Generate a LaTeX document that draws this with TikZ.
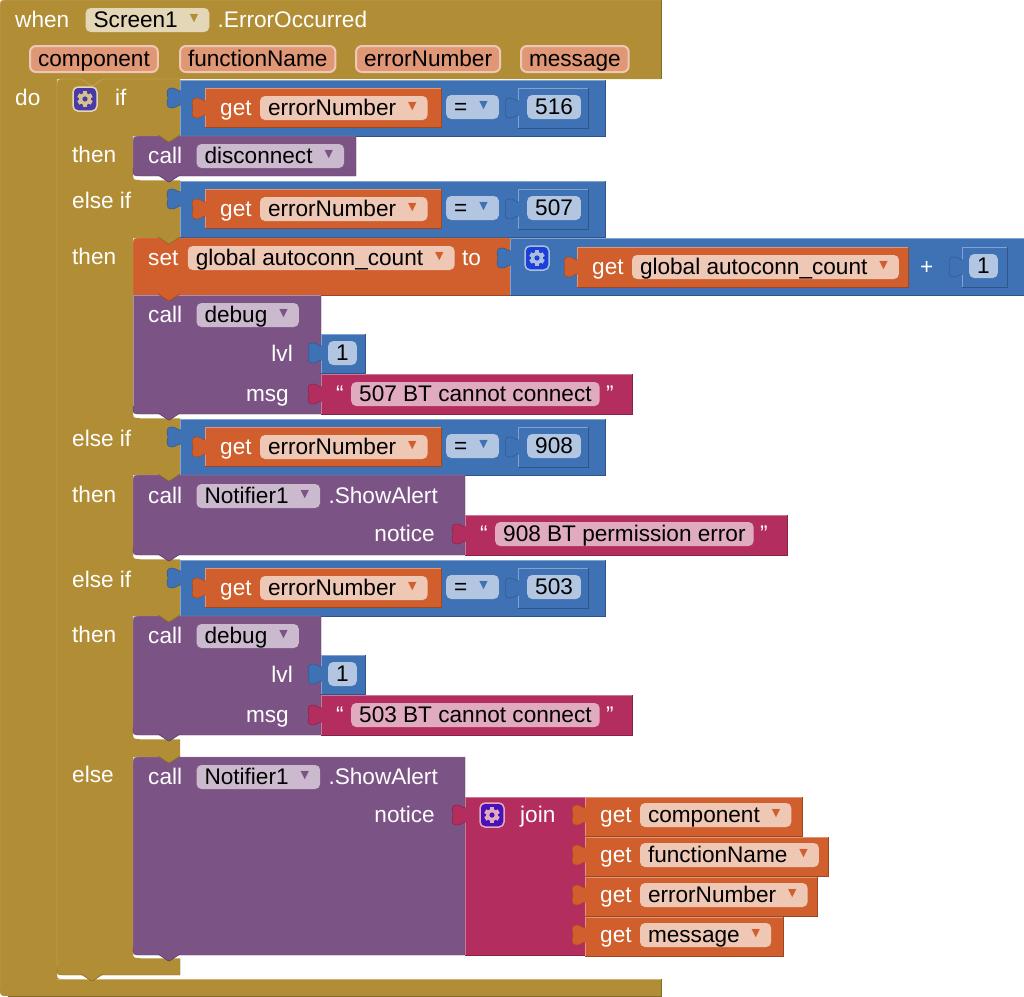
\documentclass[tikz,border=0pt]{standalone}
\usepackage{fontspec}
\setmainfont{Liberation Sans}
\newfontfamily\symfont{DejaVu Sans}
\usepackage{xcolor}
\usetikzlibrary{positioning}

\definecolor{vgold}{HTML}{B18E35}
\definecolor{vblue}{HTML}{3F71B5}
\definecolor{vorange}{HTML}{D05F2D}
\definecolor{vpurple}{HTML}{7C5385}
\definecolor{vmagenta}{HTML}{B32D5E}
\definecolor{vgearif}{HTML}{4A3AA8}
\definecolor{vgearplus}{HTML}{1C3FD9}
\definecolor{vgearjoin}{HTML}{4A10BA}

% drop-down mark inside a field
\newcommand{\drop}[1]{\hspace{12pt}\raisebox{6pt}{\symfont\fontsize{11}{11}\selectfont\color{#1}▼}\hspace{3pt}\mbox{}}
% plain block: colour, x1, y1, x2, y2
\newcommand{\blockrect}[5]{%
  \fill[#1] (#2,#3) rectangle (#4,#5);
  \draw[#1!65!white] (#2,#5) -- (#2,#3) -- (#4,#3);
  \draw[#1!75!black] (#4,#3) -- (#4,#5) -- (#2,#5);}
% block in the then column: colour, x2, y1, y2, top radius, bottom radius
\newcommand{\stackblock}[6]{%
  \fill[#1] (#2,#3) -- ({133+#5},#3) .. controls (133,#3) .. (133,{#3+#5}) -- (133,{#4-#6}) .. controls (133,#4) .. ({133+#6},#4) -- (#2,#4) -- cycle;
  \draw[#1!65!white] (133,{#4-#6}) -- (133,{#3+#5}) .. controls (133,#3) .. ({133+#5},#3) -- (#2,#3);
  \draw[#1!75!black] (#2,#3) -- (#2,#4) -- ({133+#6},#4) .. controls (133,#4) .. (133,{#4-#6});}
% puzzle tab on a left edge
\newcommand{\tabpath}[2]{({#1+1},{#2-7}) .. controls ({#1-3},{#2-7}) and ({#1-4},{#2-10}) .. ({#1-8},{#2-10}) .. controls ({#1-12},{#2-10}) and ({#1-13},{#2-8}) .. ({#1-13},{#2-5}) .. controls ({#1-13},{#2-3}) and ({#1-12},{#2-2}) .. ({#1-12},#2) .. controls ({#1-12},{#2+2}) and ({#1-13},{#2+3}) .. ({#1-13},{#2+5}) .. controls ({#1-13},{#2+8}) and ({#1-12},{#2+10}) .. ({#1-8},{#2+10}) .. controls ({#1-4},{#2+10}) and ({#1-3},{#2+7}) .. ({#1+1},{#2+7})}
\newcommand{\intab}[3]{%
  \fill[#1] \tabpath{#2}{#3} -- cycle;
  \draw[#1!80!black, line width=0.6pt] \tabpath{#2}{#3};}
% tab between two stacked blocks
\newcommand{\stacktab}[3]{%
  \fill[#1] ({#2-11},{#3-1}) -- ({#2-2},{#3+5}) .. controls (#2,{#3+6.5}) .. ({#2+2},{#3+5}) -- ({#2+11},{#3-1}) -- cycle;
  \draw[#1!75!black, line width=0.6pt] ({#2-11},{#3-1}) -- ({#2-2},{#3+5}) .. controls (#2,{#3+6.5}) .. ({#2+2},{#3+5}) -- ({#2+11},{#3-1});}
% concave corner of the gold blocks
\newcommand{\fillet}[2]{%
  \fill[vgold] (#1,{#2-7}) .. controls (#1,#2) .. ({#1+7},#2) -- (#1,#2) -- cycle;}
% gear inside a mutator box
\newcommand{\gearicon}[3]{%
  \foreach \ang in {0,60,...,300}
    \fill[#2, shift={(#1.center)}, rotate=\ang] (-2,-7.6) rectangle (2,7.6);
  \fill[#2] (#1.center) circle (6pt);
  \fill[#3] (#1.center) circle (2.6pt);}

\begin{document}
\begin{tikzpicture}[
    x=1pt, y=-1pt,
    font=\fontsize{22.6}{26}\selectfont,
    lbl/.style={text=white, inner sep=0pt, anchor=base west},
    field/.style={text=black, rounded corners=5pt, inner xsep=8pt, inner ysep=0pt,
        text height=19pt, text depth=5pt, anchor=base west},
    fgold/.style={field, fill=vgold!35!white},
    fblue/.style={field, fill=vblue!40!white},
    forange/.style={field, fill=vorange!35!white},
    fpurple/.style={field, fill=vpurple!40!white},
    fmagenta/.style={field, fill=vmagenta!40!white},
    param/.style={text=black, rounded corners=6pt, fill=vorange!65!white, draw=vorange!35!white,
        line width=2pt, inner xsep=8pt, inner ysep=1pt, text height=19pt, text depth=5pt, anchor=base west},
    gearbox/.style={rounded corners=5pt, minimum size=24pt, inner sep=0pt, line width=1.5pt}
]
\useasboundingbox (0,0) rectangle (1024,996);

% gold event block
\fill[vgold] (661,0) -- (8,0) .. controls (0,0) .. (0,8) -- (0,988) .. controls (0,996) .. (8,996) -- (661,996) -- (661,979) -- (57,979) -- (57,79) -- (661,79) -- cycle;
\draw[vgold!65!white] (0,988) -- (0,8) .. controls (0,0) .. (8,0) -- (661,0);
\draw[vgold!65!white] (57,979) -- (661,979);
\draw[vgold!75!black] (661,0) -- (661,79);
\draw[vgold!75!black] (661,979) -- (661,996) -- (8,996);
\fillet{57}{979}

% gold if block
\fill[vgold] (180,975) -- (65,975) .. controls (57,975) .. (57,967) -- (57,87) .. controls (57,79) .. (65,79) -- (180,79) -- (180,136) -- (133,136) -- (133,180) -- (180,180) -- (180,238) -- (133,238) -- (133,418) -- (180,418) -- (180,475) -- (133,475) -- (133,559) -- (180,559) -- (180,616) -- (133,616) -- (133,739) -- (180,739) -- (180,757) -- (133,757) -- (133,958) -- (180,958) -- cycle;
\draw[vgold!65!white] (57,967) -- (57,87) .. controls (57,79) .. (65,79) -- (81,79) -- (90,85) .. controls (92,86.5) .. (94,85) -- (103,79) -- (180,79);
\draw[vgold!75!black] (180,958) -- (180,975) -- (65,975) .. controls (57,975) .. (57,967);
\foreach \ledgey in {180,418,559,739,958} {
  \fillet{133}{\ledgey}
  \draw[vgold!65!white] (140,\ledgey) -- (180,\ledgey);
}
\stacktab{vgold}{92}{975}

% header of the event
\node[lbl] (when) at (15,27) {when};
\node[fgold, base right=16pt of when] (screen) {Screen1\drop{vgold}};
\node[lbl, base right=8pt of screen] (event) {.ErrorOccurred};
\node[param] (component) at (29,66) {component};
\node[param] (functionname) at (179,66) {functionName};
\node[param] (errornumber) at (355,66) {errorNumber};
\node[param] (message) at (520,66) {message};
\node[lbl] (do) at (15,105) {do};
\node[gearbox, fill=vgearif, draw=vgold!35!white] (gearif) at (85,99) {};
\gearicon{gearif}{vgold!55!white}{vgearif}
\node[lbl] (if) at (115,105) {if};

% the four conditions
\foreach \rowy/\val in {80/516, 181/507, 419/908, 560/503} {
  \blockrect{vblue}{180}{\rowy}{605}{\rowy+56}
  \intab{vblue}{180}{\rowy+18}
  \blockrect{vorange}{205}{\rowy+8}{441}{\rowy+47}
  \intab{vorange}{205}{\rowy+28}
  \node[lbl] (get\val) at (220,\rowy+35) {get};
  \node[forange, base right=8pt of get\val] (var\val) {errorNumber\drop{vorange}};
  \node[fblue] (compare\val) at (446,\rowy+34) {=\drop{vblue}};
  \blockrect{vblue}{518}{\rowy+8}{588}{\rowy+48}
  \intab{vblue}{518}{\rowy+28}
  \node[fblue] (num\val) at (527,\rowy+34) {\val};
}
\node[lbl] (elseif1) at (72,208) {else if};
\node[lbl] (elseif2) at (72,446) {else if};
\node[lbl] (elseif3) at (72,587) {else if};
\node[lbl] (then1) at (72,162) {then};
\node[lbl] (then2) at (72,264) {then};
\node[lbl] (then3) at (72,502) {then};
\node[lbl] (then4) at (72,642) {then};
\node[lbl] (else) at (72,782) {else};

% call disconnect
\stackblock{vpurple}{356}{136}{176}{8}{8}
\stacktab{vgold}{169}{136}
\stacktab{vpurple}{169}{176}
\node[lbl] (calldisc) at (148,163) {call};
\node[fpurple, base right=14pt of calldisc] (disconnect) {disconnect\drop{vpurple}};

% set autoconn_count
\stackblock{vorange}{510}{238}{295}{8}{0}
\stacktab{vgold}{169}{238}
\node[lbl] (set) at (148,265) {set};
\node[forange, base right=9pt of set] (setvar) {global autoconn\_count\drop{vorange}};
\node[lbl, base right=7pt of setvar] (to) {to};
\blockrect{vblue}{510}{238}{1024}{295}
\intab{vblue}{510}{258}
\node[gearbox, fill=vgearplus, draw=vblue!45!white] (gearplus) at (537,258) {};
\gearicon{gearplus}{vblue!45!white}{vgearplus}
\blockrect{vorange}{577}{247}{908}{287}
\intab{vorange}{577}{267}
\node[lbl] (getcount) at (592,274) {get};
\node[forange, base right=8pt of getcount] (countvar) {global autoconn\_count\drop{vorange}};
\node[lbl] (plus) at (920,274) {+};
\blockrect{vblue}{962}{247}{1007}{287}
\intab{vblue}{962}{267}
\node[fblue] (incr) at (969,273) {1};

% the two calls of debug
\foreach \rowy/\val in {295/507, 616/503} {
  \ifnum\rowy=295
    \stackblock{vpurple}{321}{\rowy}{\rowy+119}{0}{8}
    \stacktab{vorange}{169}{\rowy}
  \else
    \stackblock{vpurple}{321}{\rowy}{\rowy+119}{8}{8}
    \stacktab{vgold}{169}{\rowy}
  \fi
  \stacktab{vpurple}{169}{\rowy+119}
  \node[lbl] (call\val) at (148,\rowy+27) {call};
  \node[fpurple, base right=14pt of call\val] (debug\val) {debug\drop{vpurple}};
  \node[lbl, anchor=base east] (lvl\val) at (293,\rowy+66) {lvl};
  \blockrect{vblue}{321}{\rowy+39}{365}{\rowy+78}
  \intab{vblue}{321}{\rowy+58}
  \node[fblue] (level\val) at (328,\rowy+65) {1};
  \node[lbl, anchor=base east] (msg\val) at (289,\rowy+106) {msg};
  \blockrect{vmagenta}{321}{\rowy+79}{632}{\rowy+119}
  \intab{vmagenta}{321}{\rowy+99}
  \node[lbl] (open\val) at (336,\rowy+106) {“};
  \node[fmagenta] (text\val) at (351,\rowy+106) {\val{} BT cannot connect};
  \node[lbl, base right=6pt of text\val] (close\val) {”};
}

% permission alert
\stackblock{vpurple}{465}{475}{555}{8}{8}
\stacktab{vgold}{169}{475}
\stacktab{vpurple}{169}{555}
\node[lbl] (callalert) at (148,503) {call};
\node[fpurple, base right=14pt of callalert] (notifier) {Notifier1\drop{vpurple}};
\node[lbl, base right=8pt of notifier] (showalert) {.ShowAlert};
\node[lbl, anchor=base east] (notice) at (435,541) {notice};
\blockrect{vmagenta}{465}{515}{787}{555}
\intab{vmagenta}{465}{534}
\node[lbl] (openalert) at (480,541) {“};
\node[fmagenta] (textalert) at (495,541) {908 BT permission error};
\node[lbl, base right=6pt of textalert] (closealert) {”};

% last alert with the join
\stackblock{vpurple}{465}{757}{955}{8}{8}
\stacktab{vgold}{169}{757}
\stacktab{vpurple}{169}{955}
\node[lbl] (calllast) at (148,784) {call};
\node[fpurple, base right=14pt of calllast] (notifierlast) {Notifier1\drop{vpurple}};
\node[lbl, base right=8pt of notifierlast] (showlast) {.ShowAlert};
\node[lbl, anchor=base east] (noticelast) at (435,822) {notice};
\blockrect{vmagenta}{465}{797}{585}{955}
\intab{vmagenta}{465}{815}
\node[gearbox, fill=vgearjoin, draw=vmagenta!40!white] (gearjoin) at (492,815) {};
\gearicon{gearjoin}{vmagenta!40!white}{vgearjoin}
\node[lbl] (join) at (520,822) {join};
\foreach \rowy/\var/\xend in {797/component/802, 837/functionName/828, 877/errorNumber/817, 917/message/783} {
  \blockrect{vorange}{585}{\rowy}{\xend}{\rowy+39}
  \intab{vorange}{585}{\rowy+18}
  \node[lbl] (get\var) at (600,\rowy+25) {get};
  \node[forange, base right=8pt of get\var] (arg\var) {\var\drop{vorange}};
}
\end{tikzpicture}
\end{document}
